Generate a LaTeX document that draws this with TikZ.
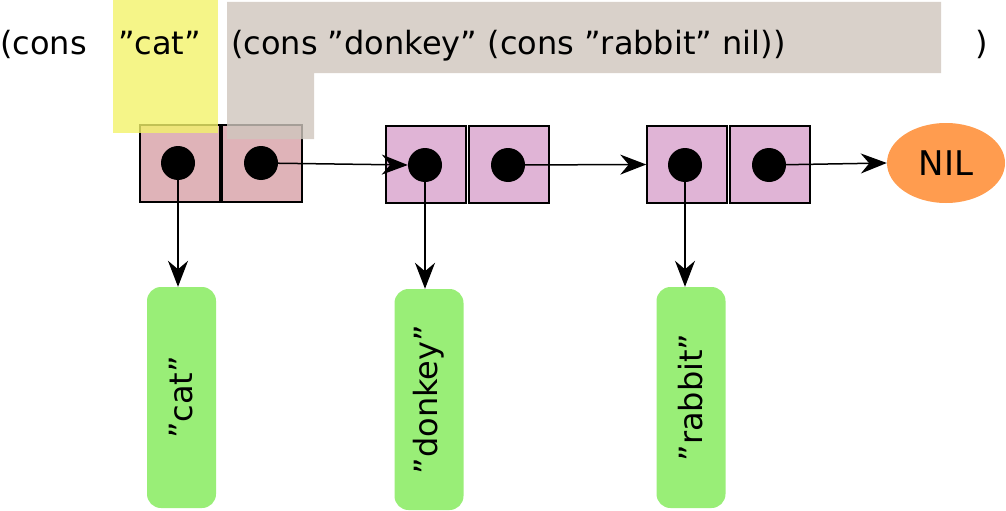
\documentclass[tikz,border=0pt]{standalone}
\usepackage{fontspec}
\setmainfont{DejaVu Sans}
\usetikzlibrary{arrows.meta,shapes.geometric}
\definecolor{cellpink}{HTML}{E0B4D6}
\definecolor{cellred}{HTML}{DFB3B8}
\definecolor{hlyellow}{HTML}{F2F26A}
\definecolor{hlgray}{HTML}{CFC6BD}
\definecolor{nilorange}{HTML}{FF9C4F}
\definecolor{valgreen}{HTML}{99EE77}
\begin{document}
\begin{tikzpicture}[x=1pt,y=-1pt,
  cell/.style={draw=black,line width=1.5pt,minimum width=80pt,minimum height=77pt,inner sep=0pt},
  dot/.style={circle,fill=black,minimum size=34pt,inner sep=0pt},
  val/.style={fill=valgreen,rounded corners=14pt,minimum width=69pt,minimum height=221pt,inner sep=0pt},
  arr/.style={line width=1.5pt,-{Stealth[length=26pt,width=20pt]}},
  big/.style={font=\fontsize{32}{38}\selectfont,inner sep=0pt,anchor=base west}]
\useasboundingbox (0,0) rectangle (1006,511);
% cells
\node[cell,fill=cellred] (c1a) at (180,163.5) {};
\node[cell,fill=cellred] (c1b) at (262,163.5) {};
\node[cell,fill=cellpink] (c2a) at (426,164.5) {};
\node[cell,fill=cellpink] (c2b) at (509,164.5) {};
\node[cell,fill=cellpink] (c3a) at (687,164.5) {};
\node[cell,fill=cellpink] (c3b) at (770,164.5) {};
% highlights
\fill[hlyellow,opacity=0.8] (113,0) rectangle (218,133);
\fill[hlgray,opacity=0.8] (227,2) -- (941,2) -- (941,73) -- (314,73) -- (314,139) -- (227,139) -- cycle;
% text
\node[big] (t1) at (0,55) {(cons};
\node[big] (t2) at (118,55) {"cat"};
\node[big] (t3) at (231,55) {(cons "donkey" (cons "rabbit" nil))};
\node[big] (t4) at (975,55) {)};
% dots
\node[dot] (d1a) at (178,163) {};
\node[dot] (d1b) at (261,163) {};
\node[dot] (d2a) at (425,165) {};
\node[dot] (d2b) at (508,165) {};
\node[dot] (d3a) at (685,165) {};
\node[dot] (d3b) at (769,165) {};
% nil
\node[ellipse,fill=nilorange,minimum width=118pt,minimum height=80pt,inner sep=0pt,font=\fontsize{34}{40}\selectfont] (nil) at (946,163) {NIL};
% values
\node[val] (v1) at (181.5,397.5) {};
\node[val] (v2) at (429,399.5) {};
\node[val] (v3) at (691,397.5) {};
\node[rotate=90,font=\fontsize{32}{38}\selectfont] at (v1) {"cat"};
\node[rotate=90,font=\fontsize{32}{38}\selectfont] at (v2) {"donkey"};
\node[rotate=90,font=\fontsize{32}{38}\selectfont] at (v3) {"rabbit"};
% arrows
\draw[arr] (d1a.center) -- (v1.north -| d1a);
\draw[arr] (d2a.center) -- (v2.north -| d2a);
\draw[arr] (d3a.center) -- (v3.north -| d3a);
\draw[arr] (d1b.center) -- (d2a.west);
\draw[arr] (d2b.center) -- (c3a.west);
\draw[arr] (d3b.center) -- (nil.west);
\end{tikzpicture}
\end{document}
